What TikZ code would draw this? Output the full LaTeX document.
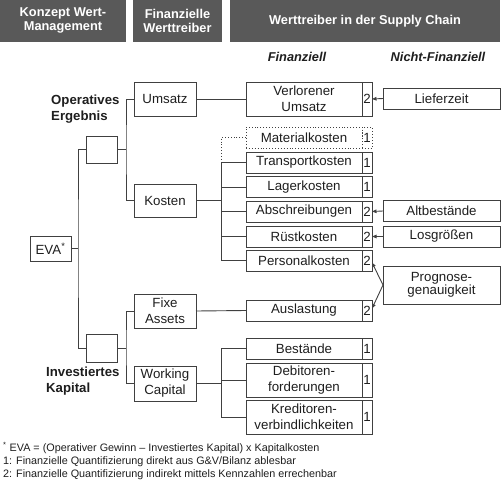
\documentclass[tikz,border=0pt]{standalone}
\usepackage{fontspec}
\setmainfont{Liberation Sans}
\usetikzlibrary{arrows.meta}
\definecolor{kopfgrau}{HTML}{595959}
\definecolor{liniengrau}{HTML}{404040}
\definecolor{textgrau}{HTML}{1E1E1E}
\begin{document}
\begin{tikzpicture}[x=1pt,y=-1pt]
        \tikzstyle{kopf}=[fill=kopfgrau, text=white, inner sep=0, outer sep=0, align=center, minimum height=41.5, font=\fontsize{12.8}{14}\selectfont\bfseries]
        \tikzstyle{box}=[draw=liniengrau, line width=0.9pt, text=textgrau, inner sep=0, outer sep=0, align=center, font=\fontsize{13.3}{16}\selectfont]
        \tikzstyle{fw}=[box, minimum width=62]
        \tikzstyle{wt}=[box, minimum width=116]
        \tikzstyle{zelle}=[box, minimum width=10, anchor=west]
        \tikzstyle{nf}=[box, minimum width=117, minimum height=21]
        \tikzstyle{titel}=[anchor=west, inner sep=0, text=textgrau, align=left, font=\fontsize{13.2}{16}\selectfont\bfseries]
        \tikzstyle{spalte}=[text=textgrau, inner sep=0, font=\fontsize{12.8}{14}\selectfont\bfseries\itshape]
        \tikzstyle{fuss}=[anchor=base west, inner sep=0, text=textgrau, font=\fontsize{10.8}{13}\selectfont]
        \tikzstyle{linie}=[draw=liniengrau, line width=0.9pt]
        \tikzstyle{pfeil}=[linie, -{Triangle[length=4.5pt,width=3.5pt]}]
        \useasboundingbox (0,0) rectangle (501,482);
        % Kopfzeile
        \node[kopf, minimum width=126] (k1) at (63,20.8) {Konzept Wert-\\Management};
        \node[kopf, minimum width=89] (k2) at (177.5,20.8) {Finanzielle\\Werttreiber};
        \node[kopf, minimum width=270] (k3) at (365,20.8) {Werttreiber in der Supply Chain};
        \node[spalte] (fi) at (297,57) {Finanziell};
        \node[spalte] (nfi) at (438,57) {Nicht-Finanziell};
        % Konzept
        \node[box, minimum width=41, minimum height=25] (eva) at (50.5,248.5) {EVA\textsuperscript{*}};
        \node[box, minimum width=31, minimum height=27] (oe) at (101.5,149.5) {};
        \node[box, minimum width=31, minimum height=28] (ik) at (101.5,348) {};
        \node[titel] (oet) at (51,109) {Operatives\\Ergebnis};
        \node[titel] (ikt) at (46,381) {Investiertes\\Kapital};
        % finanzielle Werttreiber
        \node[fw, minimum height=34] (um) at (165,99) {Umsatz};
        \node[fw, minimum height=33] (ko) at (165,200.5) {Kosten};
        \node[fw, minimum height=34] (fa) at (165,311) {Fixe\\Assets};
        \node[fw, minimum height=35] (wc) at (165,383.5) {Working\\Capital};
        % Werttreiber in der Supply Chain
        \node[wt, minimum height=34] (vu) at (304,99) {Verlorener\\Umsatz};
        \node[zelle, minimum height=34] (vuz) at (vu.east) {2};
        \node[wt, minimum height=21, dotted] (mk) at (304,137.5) {Materialkosten};
        \node[zelle, minimum height=21, dotted] (mkz) at (mk.east) {1};
        \node[wt, minimum height=21] (tk) at (304,162.5) {Transportkosten};
        \node[zelle, minimum height=21] (tkz) at (tk.east) {1};
        \node[wt, minimum height=21] (lk) at (304,187) {Lagerkosten};
        \node[zelle, minimum height=21] (lkz) at (lk.east) {1};
        \node[wt, minimum height=21] (ab) at (304,211.5) {Abschreibungen};
        \node[zelle, minimum height=21] (abz) at (ab.east) {2};
        \node[wt, minimum height=21] (rk) at (304,236.5) {Rüstkosten};
        \node[zelle, minimum height=21] (rkz) at (rk.east) {2};
        \node[wt, minimum height=21] (pk) at (304,260.5) {Personalkosten};
        \node[zelle, minimum height=21] (pkz) at (pk.east) {2};
        \node[wt, minimum height=21] (au) at (304,310.5) {Auslastung};
        \node[zelle, minimum height=21] (auz) at (au.east) {2};
        \node[wt, minimum height=21] (be) at (304,348.5) {Bestände};
        \node[zelle, minimum height=21] (bez) at (be.east) {1};
        \node[wt, minimum height=34] (db) at (304,380) {Debitoren-\\forderungen};
        \node[zelle, minimum height=34] (dbz) at (db.east) {1};
        \node[wt, minimum height=34] (kr) at (304,417) {Kreditoren-\\verbindlichkeiten};
        \node[zelle, minimum height=34] (krz) at (kr.east) {1};
        % nicht-finanzielle Werttreiber
        \node[nf] (lz) at (441.5,98.5) {Lieferzeit};
        \node[nf] (alt) at (441.5,211) {Altbestände};
        \node[nf] (los) at (441.5,236.5) {Losgrößen};
        \node[nf, minimum height=38] (pg) at (441.5,285) {Prognose-\\[-3pt]genauigkeit};
        % Verbindungen
        \coordinate (j1) at (78,248.5);
        \coordinate (j2) at (126,149.5);
        \coordinate (j3) at (126,348);
        \coordinate (j4) at (221,200.5);
        \coordinate (j5) at (221,383.5);
        \draw[linie] (eva.east) -- (j1);
        \draw[linie] (oe.west) -| (j1) |- (ik.west);
        \draw[linie] (oe.east) -- (j2);
        \draw[linie] (um.west) -| (j2) |- (ko.west);
        \draw[linie] (ik.east) -- (j3);
        \draw[linie] (fa.west) -| (j3) |- (wc.west);
        \draw[linie] (um.east) -- (vu.west);
        \draw[linie] (ko.east) -- (j4);
        \foreach \n in {tk,lk,ab,rk,pk}
          \draw[linie] (j4) |- (\n.west);
        \draw[linie, dotted] (mk.west) -| (tk.west -| j4);
        \draw[linie] (fa.east) -- (au.west);
        \draw[linie] (wc.east) -- (j5);
        \foreach \n in {be,db,kr}
          \draw[linie] (j5) |- (\n.west);
        \draw[pfeil] (lz.west) -- (vuz.east);
        \draw[pfeil] (alt.west) -- (abz.east);
        \draw[pfeil] (los.west) -- (rkz.east);
        \draw[pfeil] (pg.west) -- ([yshift=-2pt]pkz.east);
        \draw[pfeil] (pg.west) -- ([yshift=2pt]auz.east);
        % Fussnoten
        \node[fuss] (f1) at (3,451) {\textsuperscript{*} EVA = (Operativer Gewinn – Investiertes Kapital) x Kapitalkosten};
        \node[fuss] (f2) at (3,464) {1: Finanzielle Quantifizierung direkt aus G\&V/Bilanz ablesbar};
        \node[fuss] (f3) at (3,477) {2: Finanzielle Quantifizierung indirekt mittels Kennzahlen errechenbar};
      \end{tikzpicture}
\end{document}
